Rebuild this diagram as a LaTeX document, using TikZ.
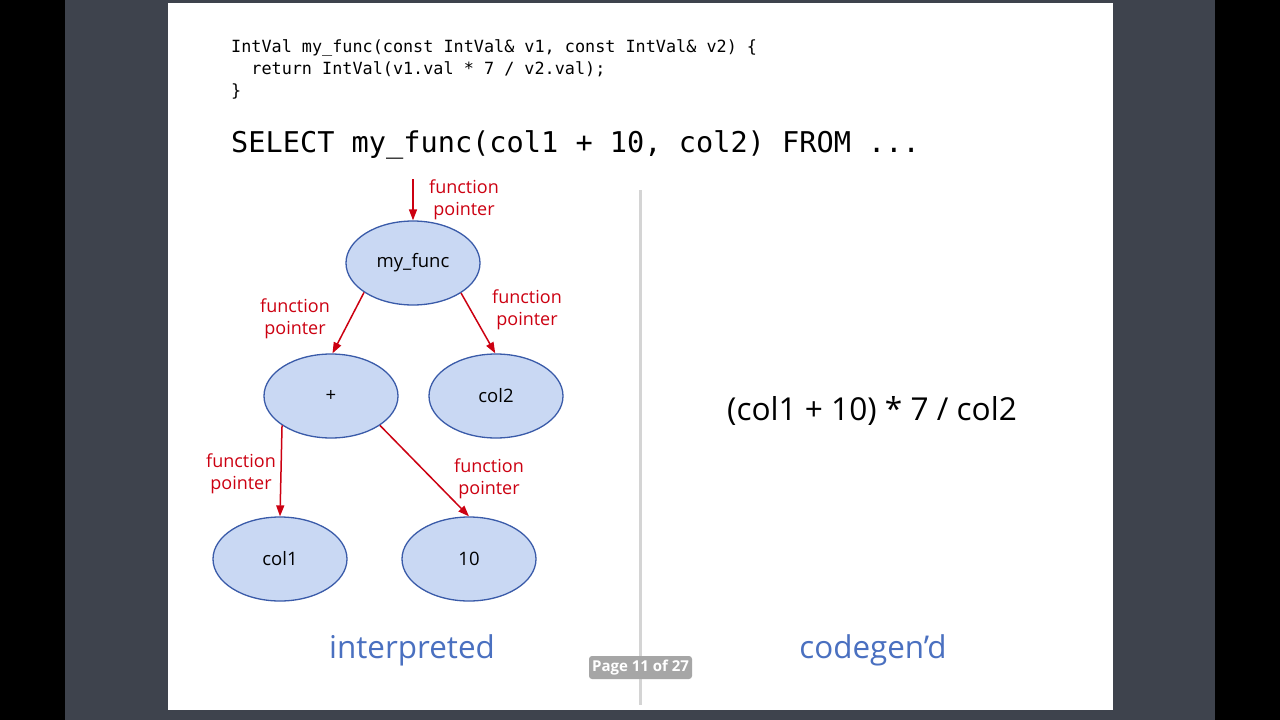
\documentclass[tikz,border=0pt]{standalone}
\usepackage{fontspec}
\setmainfont{Open Sans}
\newfontfamily\codefont{DejaVu Sans Mono}
\usetikzlibrary{shapes.geometric,arrows.meta}
\definecolor{bgdark}{HTML}{3E434D}
\definecolor{nodefill}{HTML}{C9D8F3}
\definecolor{nodeline}{HTML}{3A5BA9}
\definecolor{ptrred}{HTML}{CC0011}
\definecolor{labblue}{HTML}{4A70C0}
\definecolor{sepgrey}{HTML}{D4D4D4}
\definecolor{pagegrey}{HTML}{A6A6A6}
\tikzset{
  treenode/.style={ellipse, draw=nodeline, fill=nodefill, line width=1.3pt,
    minimum width=134pt, minimum height=84pt, inner sep=0pt,
    font=\fontsize{18.5}{22}\selectfont},
  ptr/.style={draw=ptrred, line width=1.5pt, -{Triangle[length=11pt,width=8pt]}},
  ptrlabel/.style={text=ptrred, align=center, font=\fontsize{18}{21.5}\selectfont, inner sep=0pt},
  codeline/.style={anchor=base west, inner sep=0pt, font=\codefont\fontsize{16.8}{20}\selectfont},
  bigcaption/.style={text=labblue, inner sep=0pt, font=\fontsize{31.4}{36}\selectfont}
}
\begin{document}
\begin{tikzpicture}[x=1pt,y=-1pt]
\useasboundingbox (0,0) rectangle (1280,720);
% background
\fill[black] (0,0) rectangle (1280,720);
\fill[bgdark] (65,0) rectangle (1215,720);
\fill[white] (168,3) rectangle (1113,710);
% separator
\draw[sepgrey, line width=3pt] (640,190) -- (640,705);
% code
\node[codeline] (c1) at (231,52) {IntVal my\_func(const IntVal\& v1, const IntVal\& v2) \{};
\node[codeline] (c2) at (231,74) {\ \ return IntVal(v1.val * 7 / v2.val);};
\node[codeline] (c3) at (231,96) {\}};
\node[anchor=base west, inner sep=0pt, font=\codefont\fontsize{28.6}{32}\selectfont] (sql) at (231,152) {SELECT my\_func(col1 + 10, col2) FROM ...};
% tree
\node[treenode] (f) at (413,263) {my\_func};
\node[treenode] (plus) at (331,396) {+};
\node[treenode] (col2) at (496,396) {col2};
\node[treenode] (col1) at (280,559) {col1};
\node[treenode] (ten) at (469,559) {10};
\coordinate (top) at (413,179);
\draw[ptr] (top) -- (f.north);
\draw[ptr] (f.211.7) -- (plus.88);
\draw[ptr] (f.328.3) -- (col2.91);
\draw[ptr] (plus.211.7) -- (col1.90);
\draw[ptr] (plus.329.7) -- (ten.90);
\node[ptrlabel] (l0) at (464,200) {function\\pointer};
\node[ptrlabel] (l1) at (295,319) {function\\pointer};
\node[ptrlabel] (l2) at (527,310) {function\\pointer};
\node[ptrlabel] (l3) at (241,474) {function\\pointer};
\node[ptrlabel] (l4) at (489,479) {function\\pointer};
% right side
\node[inner sep=0pt, font=\fontsize{31.6}{36}\selectfont] (expr) at (872,411) {(col1 + 10) * 7 / col2};
\node[bigcaption] (interp) at (412,650) {interpreted};
\node[bigcaption] (cg) at (873,650) {codegen’d};
% page indicator
\node[fill=pagegrey, text=white, rounded corners=3pt, minimum width=103pt, minimum height=23pt, inner sep=0pt, font=\bfseries\fontsize{15}{17}\selectfont] (page) at (640.5,667.5) {Page 11 of 27};
\end{tikzpicture}
\end{document}
